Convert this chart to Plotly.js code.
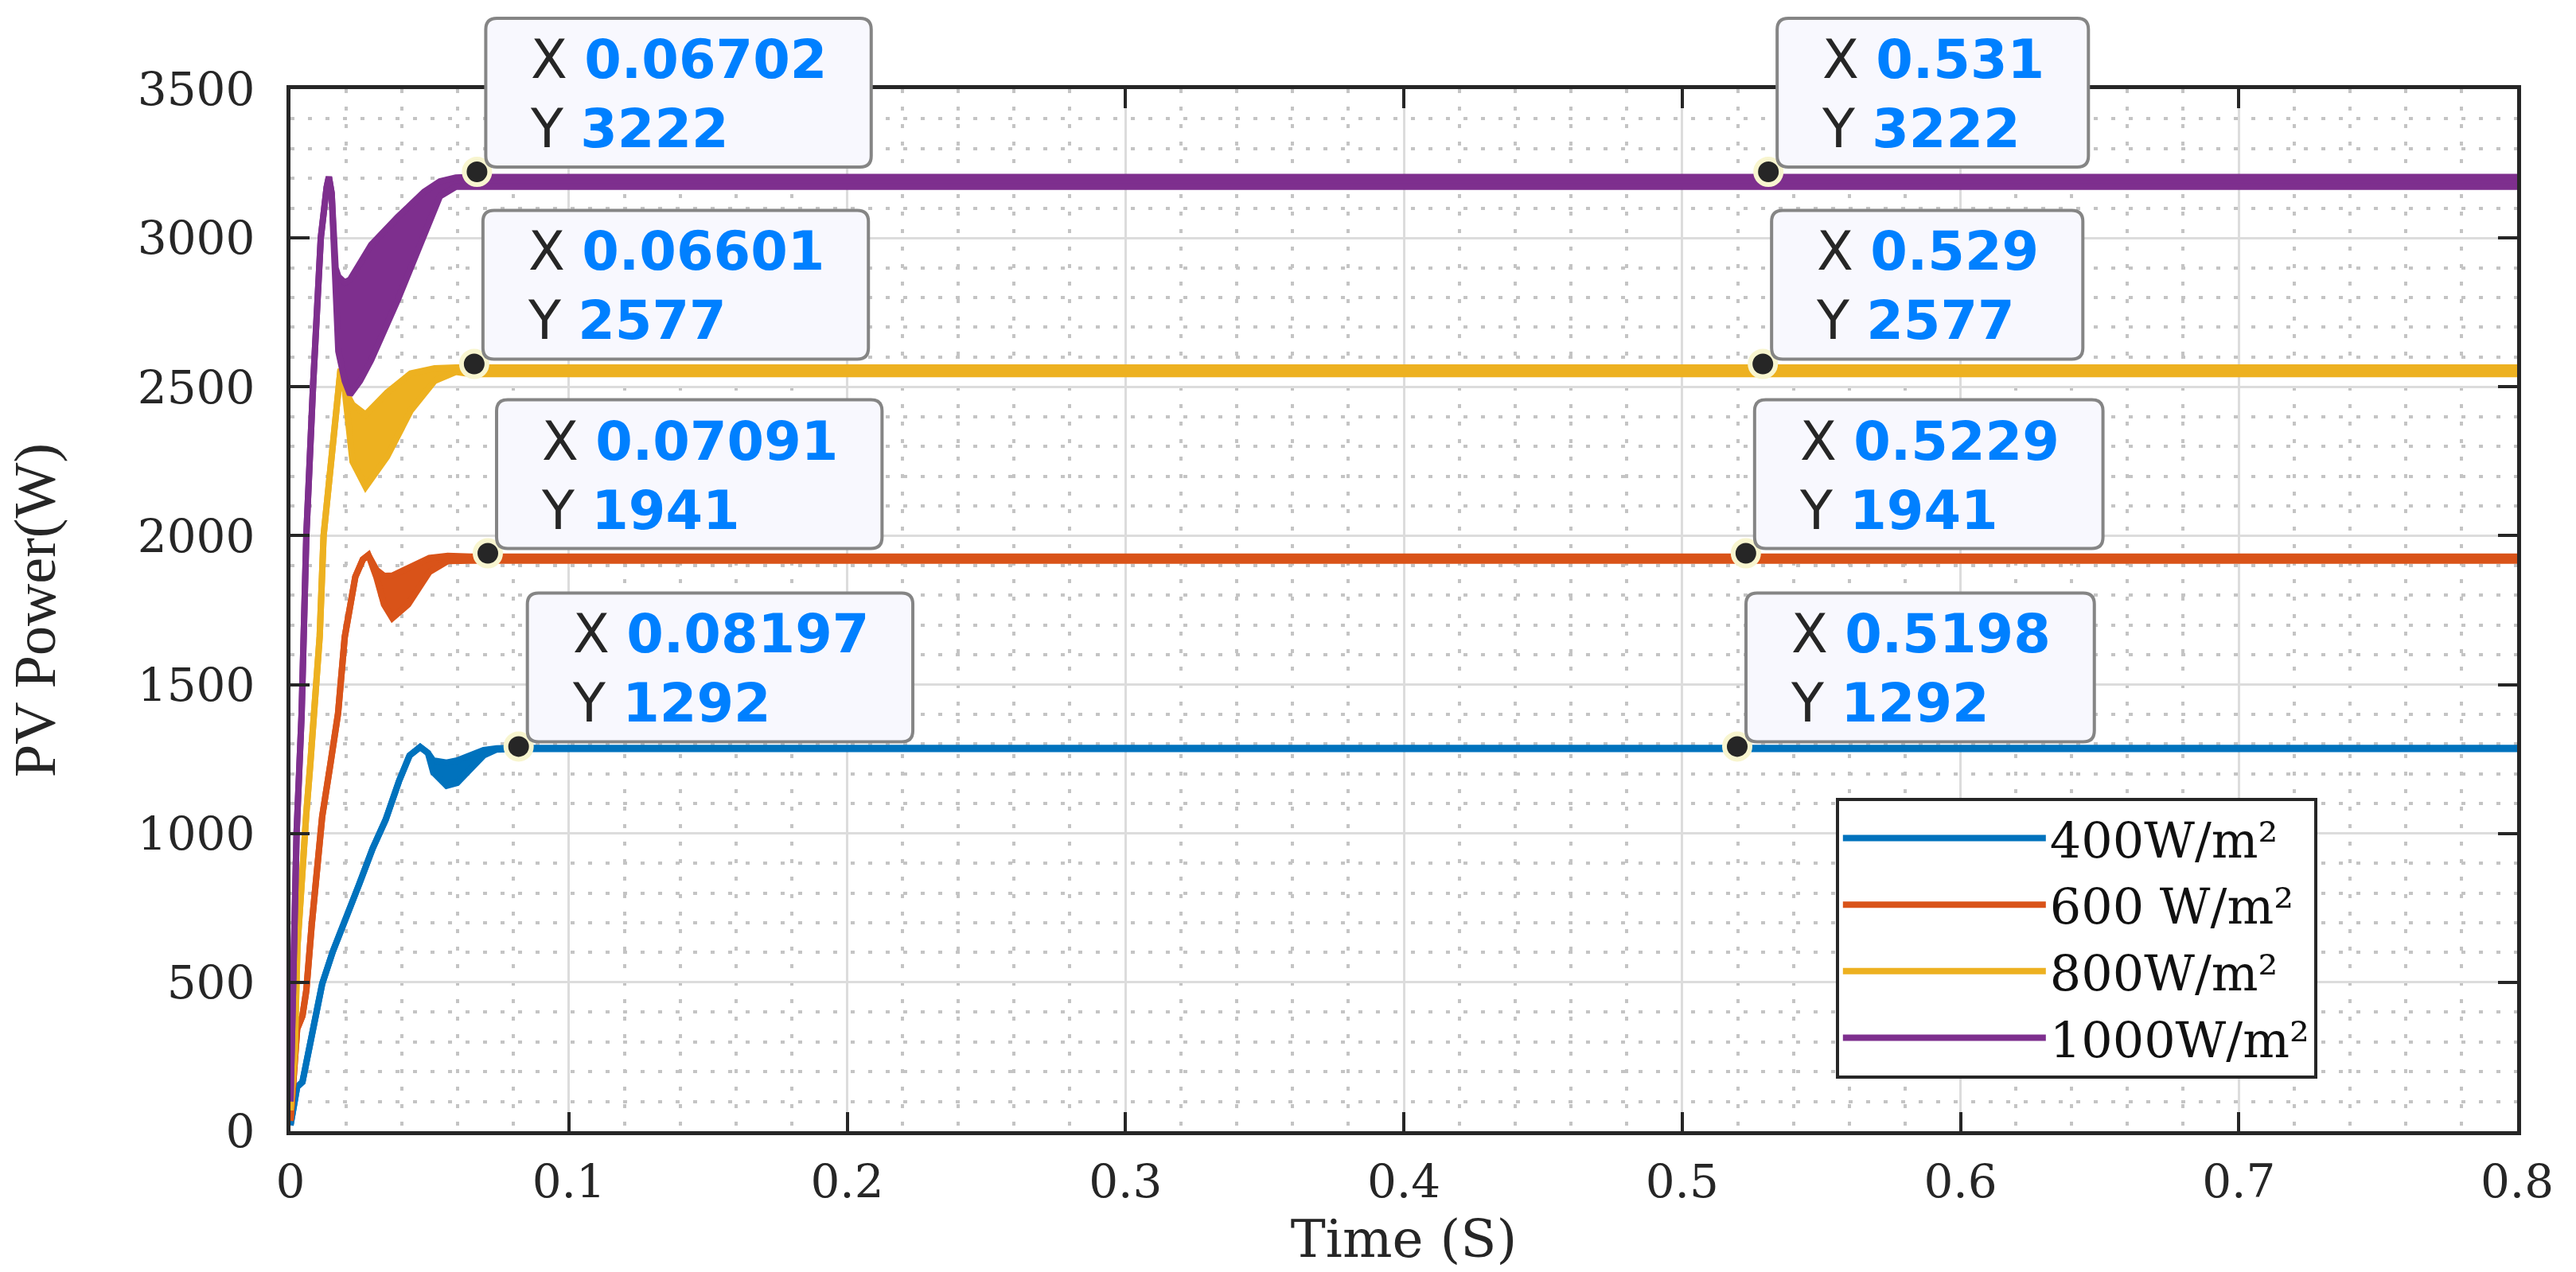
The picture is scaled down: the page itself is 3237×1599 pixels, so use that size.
<!DOCTYPE html>
<html>
<head>
<meta charset="utf-8">
<script src="https://cdn.plot.ly/plotly-3.0.1.min.js"></script>
<style>
  html, body { margin: 0; padding: 0; background: #ffffff; }
  #chart { width: 3237px; height: 1599px; }
</style>
</head>
<body>
<div id="chart"></div>
<script>
// ---------- data ----------
const seriesNames = ['400W/m²', '600 W/m²', '800W/m²', '1000W/m²'];
const seriesColors = ['#0072BD', '#D95319', '#EDB120', '#7E2F8E'];

// 400 W/m2 : time, upper envelope, lower envelope (envelopes equal where there is no ripple)
const t400  = [0, 0.0024, 0.0043, 0.0062, 0.0086, 0.0114, 0.0152, 0.019, 0.0247, 0.0295, 0.0342, 0.039, 0.0428, 0.0466, 0.0494, 0.0513, 0.0561, 0.0599, 0.0637, 0.0694, 0.0741, 0.08, 0.8];
const hi400 = [20, 149, 165, 257, 387, 495, 603, 700, 830, 949, 1046, 1176, 1262, 1290, 1270, 1245, 1238, 1245, 1258, 1280, 1286, 1287, 1287];
const lo400 = [20, 149, 165, 257, 387, 495, 603, 700, 830, 949, 1046, 1176, 1262, 1290, 1270, 1205, 1160, 1170, 1208, 1262, 1282, 1284, 1284];

// 600 W/m2
const t600  = [0, 0.0012, 0.0024, 0.0043, 0.0057, 0.0076, 0.0095, 0.0114, 0.0143, 0.0171, 0.0195, 0.0233, 0.026, 0.028, 0.0309, 0.0336, 0.0366, 0.0423, 0.0499, 0.0565, 0.065, 0.8];
const hi600 = [35, 200, 343, 387, 473, 689, 905, 1057, 1230, 1403, 1660, 1862, 1920, 1935, 1885, 1865, 1866, 1890, 1925, 1932, 1930, 1930];
const lo600 = [35, 200, 343, 387, 473, 689, 905, 1057, 1230, 1403, 1660, 1862, 1920, 1935, 1860, 1769, 1723, 1769, 1878, 1915, 1916, 1916];

// 800 W/m2
const t800  = [0, 0.0015, 0.0025, 0.0043, 0.0057, 0.0071, 0.009, 0.0105, 0.0119, 0.0145, 0.0171, 0.018, 0.0195, 0.0223, 0.027, 0.0347, 0.0432, 0.0518, 0.0594, 0.065, 0.8];
const hi800 = [70, 260, 620, 905, 1068, 1230, 1500, 1662, 2000, 2260, 2500, 2560, 2490, 2440, 2407, 2481, 2545, 2562, 2565, 2565, 2565];
const lo800 = [70, 260, 620, 905, 1068, 1230, 1500, 1662, 2000, 2260, 2500, 2560, 2490, 2249, 2164, 2265, 2420, 2520, 2550, 2543, 2543];

// 1000 W/m2
const t1000  = [0, 0.0012, 0.0022, 0.0040, 0.0057, 0.0081, 0.0109, 0.0130, 0.0138, 0.0148, 0.0162, 0.0172, 0.0195, 0.0214, 0.025, 0.029, 0.0385, 0.048, 0.0537, 0.0594, 0.064, 0.8];
const hi1000 = [100, 500, 1000, 1400, 2000, 2500, 3000, 3170, 3205, 3150, 2900, 2870, 2850, 2860, 2915, 2977, 3070, 3155, 3190, 3203, 3205, 3205];
const lo1000 = [100, 500, 1000, 1400, 2000, 2500, 3000, 3170, 3205, 3150, 2900, 2620, 2520, 2474, 2520, 2590, 2791, 3008, 3140, 3172, 3172, 3172];

// data tips
const tipX = [0.08197, 0.07091, 0.06601, 0.06702, 0.5198, 0.5229, 0.529, 0.531];
const tipY = [1292, 1941, 2577, 3222, 1292, 1941, 2577, 3222];
const tipXLabels = ['0.08197', '0.07091', '0.06601', '0.06702', '0.5198', '0.5229', '0.529', '0.531'];
const tipYLabels = ['1292', '1941', '2577', '3222', '1292', '1941', '2577', '3222'];

// axes
const xRange = [0, 0.8];
const yRange = [0, 3500];
const xTitle = 'Time (S)';
const yTitle = 'PV Power(W)';

// ---------- build ----------
const seriesT  = [t400, t600, t800, t1000];
const seriesHi = [hi400, hi600, hi800, hi1000];
const seriesLo = [lo400, lo600, lo800, lo1000];

const traces = [];
for (let i = 0; i < seriesT.length; i++) {
  traces.push({
    type: 'scatter', mode: 'lines',
    x: seriesT[i], y: seriesHi[i],
    name: seriesNames[i],
    line: { color: seriesColors[i], width: 8 },
    showlegend: true, hoverinfo: 'skip'
  });
  traces.push({
    type: 'scatter', mode: 'lines',
    x: seriesT[i], y: seriesLo[i],
    name: seriesNames[i],
    line: { color: seriesColors[i], width: 8 },
    fill: 'tonexty', fillcolor: seriesColors[i],
    showlegend: false, hoverinfo: 'skip'
  });
}
traces.push({
  type: 'scatter', mode: 'markers',
  x: tipX, y: tipY, showlegend: false, hoverinfo: 'skip',
  marker: { color: '#262626', size: 32, line: { color: '#F8F5CF', width: 6 } }
});

// data-tip boxes: rounded rectangles (pixel sized, anchored at the tip point) + text
const tipFont = 'DejaVu Sans';
const tipSize = 67;
const tipColor = '#0080FF';
const boxH = 187, boxPad = 56, boxDX = 11, boxDY = 6, boxR = 14;
const ctx = document.createElement('canvas').getContext('2d');
function measure(str, weight) {
  ctx.font = weight + ' ' + tipSize + 'px "' + tipFont + '"';
  return ctx.measureText(str).width;
}
const shapes = [];
const annotations = [];
tipX.forEach((x, i) => {
  const w1 = measure('X ', 'normal') + measure(tipXLabels[i], 'bold');
  const w2 = measure('Y ', 'normal') + measure(tipYLabels[i], 'bold');
  const boxW = Math.max(w1, w2) + 2 * boxPad;
  const x0 = boxDX, x1 = boxDX + boxW, y0 = boxDY, y1 = boxDY + boxH, r = boxR;
  const path = 'M' + (x0 + r) + ',' + y0 + ' L' + (x1 - r) + ',' + y0 + ' Q' + x1 + ',' + y0 + ' ' + x1 + ',' + (y0 + r) +
               ' L' + x1 + ',' + (y1 - r) + ' Q' + x1 + ',' + y1 + ' ' + (x1 - r) + ',' + y1 +
               ' L' + (x0 + r) + ',' + y1 + ' Q' + x0 + ',' + y1 + ' ' + x0 + ',' + (y1 - r) +
               ' L' + x0 + ',' + (y0 + r) + ' Q' + x0 + ',' + y0 + ' ' + (x0 + r) + ',' + y0 + ' Z';
  // paper-referenced in y so the box is not clipped at the top of the plot area
  const yPaper = (tipY[i] - yRange[0]) / (yRange[1] - yRange[0]);
  shapes.push({
    type: 'path', layer: 'above',
    xref: 'x', yref: 'paper', xsizemode: 'pixel', ysizemode: 'pixel',
    xanchor: x, yanchor: yPaper, path: path,
    fillcolor: '#F8F8FE', line: { color: '#858585', width: 4 }
  });
  annotations.push({
    xref: 'x', yref: 'y', x: x, y: tipY[i],
    xanchor: 'left', yanchor: 'middle',
    xshift: boxDX + boxPad, yshift: boxDY + boxH / 2 - 2,
    showarrow: false, align: 'left',
    text: 'X <span style="color:' + tipColor + ';font-weight:bold">' + tipXLabels[i] + '</span>' +
          '<br>Y <span style="color:' + tipColor + ';font-weight:bold">' + tipYLabels[i] + '</span>',
    font: { family: tipFont + ', sans-serif', size: tipSize, color: '#262626' },
    borderpad: 0, borderwidth: 0
  });
});

const axisCommon = {
  showline: true, linecolor: '#262626', linewidth: 5, mirror: 'ticks',
  ticks: 'inside', ticklen: 24, tickwidth: 4, tickcolor: '#262626',
  showgrid: true, gridcolor: '#dcdcdc', gridwidth: 3,
  zeroline: false,
  tickfont: { family: 'DejaVu Serif, serif', size: 58, color: '#262626' }
};

const layout = {
  width: 3237, height: 1599,
  paper_bgcolor: '#ffffff', plot_bgcolor: '#ffffff',
  margin: { l: 365, r: 74, t: 112, b: 177 },
  showlegend: true,
  legend: {
    x: 0.694, y: 0.32, xanchor: 'left', yanchor: 'top',
    bgcolor: '#ffffff', bordercolor: '#262626', borderwidth: 4,
    font: { family: 'DejaVu Serif, serif', size: 62, color: '#111111' },
    traceorder: 'normal', itemwidth: 255
  },
  xaxis: Object.assign({}, axisCommon, {
    range: xRange, dtick: 0.1, tick0: 0,
    ticklabelstandoff: 8,
    minor: { dtick: 0.02, showgrid: true, gridcolor: '#c4c4c4', gridwidth: 4, griddash: '5px,17px', ticks: '' },
    title: { text: xTitle, standoff: 3, font: { family: 'DejaVu Serif, serif', size: 66, color: '#262626' } }
  }),
  yaxis: Object.assign({}, axisCommon, {
    range: yRange, dtick: 500, tick0: 0,
    ticklabelstandoff: 28,
    minor: { dtick: 100, showgrid: true, gridcolor: '#c4c4c4', gridwidth: 4, griddash: '5px,17px', ticks: '' },
    title: { text: yTitle, standoff: 80, font: { family: 'Liberation Serif, serif', size: 74, color: '#262626' } }
  }),
  shapes: shapes,
  annotations: annotations
};

Plotly.newPlot('chart', traces, layout, { staticPlot: true, displayModeBar: false });
</script>
</body>
</html>
